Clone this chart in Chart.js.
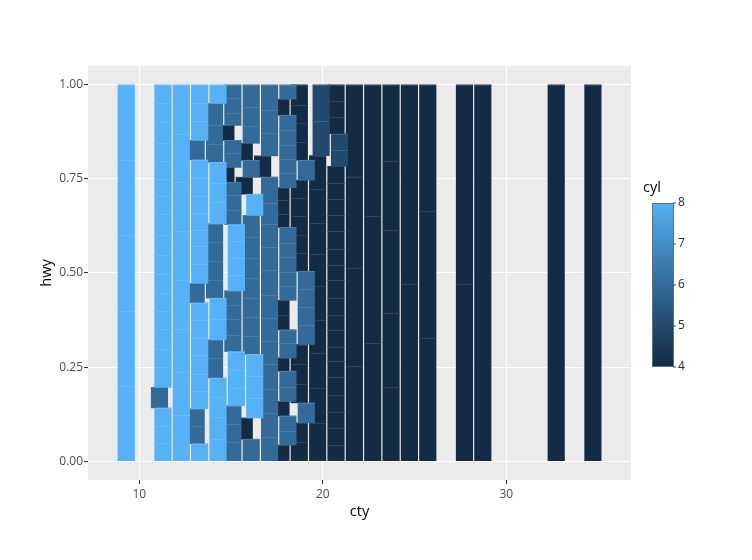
<!DOCTYPE html>
<html>
<head>
<meta charset="utf-8">
<script src="https://cdn.jsdelivr.net/npm/chart.js@4.4.1/dist/chart.umd.min.js"></script>
<style>
  html, body { margin: 0; padding: 0; background: #fff; }
</style>
</head>
<body>
<canvas id="grafico" width="752" height="560"></canvas>
<script>
// Datos (mpg: una fila por coche, en orden)
const cty = [
  18,21,20,21,16,18,18,18,16,20,19,15,17,17,15,15,17,16,
  14,11,14,13,12,16,15,16,15,15,14,11,11,14,19,22,18,18,17,
  18,17,16,16,17,17,11,15,15,16,16,15,14,13,14,14,14,9,11,11,13,13,9,13,11,13,11,12,9,13,13,12,9,11,11,13,11,
  11,11,12,14,15,14,13,13,13,14,14,13,13,13,11,13,18,18,17,16,15,15,15,15,14,
  28,24,25,23,24,26,25,24,21,
  18,18,21,21,18,18,19,19,19,20,20,17,16,17,
  17,15,15,14,9,14,13,11,
  11,12,12,11,
  11,11,12,
  14,13,13,13,
  21,19,23,23,19,19,18,19,19,14,15,14,12,
  18,16,17,18,16,
  18,18,20,19,20,18,21,19,19,19,20,20,19,20,
  15,16,15,15,16,14,21,21,21,21,18,18,19,21,21,21,22,18,18,18,24,24,26,28,26,11,13,15,16,17,15,15,15,16,
  21,19,21,22,17,33,21,19,22,21,21,21,16,17,35,29,21,19,20,20,21,18,19,21,16,18,17
];
const hwy = [
  29,29,31,30,26,26,27,26,25,28,27,25,25,25,25,24,25,23,
  20,15,20,17,17,26,23,26,25,24,19,14,15,17,27,30,26,29,26,
  24,24,22,22,24,24,17,22,21,23,23,19,18,17,17,19,19,12,17,15,17,17,12,17,16,18,15,16,12,17,17,16,12,15,16,17,15,
  17,17,18,17,19,17,19,19,17,17,17,16,16,17,15,17,26,25,26,24,21,22,23,22,20,
  33,32,32,29,32,34,36,36,29,
  26,27,30,31,26,26,28,26,29,28,27,24,24,24,
  22,19,20,17,12,19,18,14,
  15,18,18,15,
  17,16,18,
  17,19,19,17,
  29,27,31,32,27,26,26,25,25,17,17,20,18,
  26,26,27,28,25,
  25,24,27,25,26,23,26,26,26,26,25,27,25,27,
  20,20,19,17,20,17,29,27,31,31,26,26,28,27,29,31,31,26,26,27,30,33,35,37,35,15,18,20,20,22,17,19,18,20,
  29,26,29,29,24,44,29,26,29,29,29,29,23,24,44,41,29,26,28,29,29,29,28,29,26,26,26
];
const cyl = [
  4,4,4,4,6,6,6,4,4,4,4,6,6,6,6,6,6,8,
  8,8,8,8,8,8,8,8,8,8,8,8,8,8,4,4,6,6,6,
  4,6,6,6,6,6,6,6,6,6,6,6,6,6,6,8,8,8,8,8,6,8,8,8,8,8,8,8,8,8,8,8,8,8,8,8,8,
  8,8,8,6,6,6,6,8,8,6,6,8,8,8,8,8,6,6,6,6,8,8,8,8,8,
  4,4,4,4,4,4,4,4,4,
  4,4,4,4,6,6,6,4,4,4,4,6,6,6,
  6,6,6,8,8,8,8,8,
  8,8,8,8,
  8,8,8,
  6,6,8,8,
  4,4,4,4,6,6,6,6,6,6,6,6,8,
  6,6,6,6,8,
  4,4,4,4,4,4,4,4,4,4,4,4,4,4,
  4,4,6,6,6,8,4,4,4,4,6,6,6,4,4,4,4,6,6,6,4,4,4,4,4,8,8,4,4,4,6,6,6,6,
  4,4,4,4,6,4,4,4,4,4,5,5,6,6,4,4,4,4,5,5,4,4,4,4,6,6,6
];

// Ejes y leyenda
const yTicks = [0, 0.25, 0.5, 0.75, 1];
const xTicks = [10, 20, 30];
const cylTicks = [4, 5, 6, 7, 8];
const cylNiveles = [8, 6, 5, 4];          // orden de dibujo (el primero queda arriba)
const desplazamiento = {4: -0.28, 5: -0.09, 6: 0.10, 8: 0.29}; // trazas agrupadas de plotly

// Colores: gradiente Lab de ggplot (#132B43 -> #56B1F7)
const W = [0.95047, 1, 1.08883];
function lin(c) { c /= 255; return c <= 0.04045 ? c / 12.92 : Math.pow((c + 0.055) / 1.055, 2.4); }
function delin(c) { c = c <= 0.0031308 ? 12.92 * c : 1.055 * Math.pow(c, 1 / 2.4) - 0.055; return Math.round(Math.max(0, Math.min(1, c)) * 255); }
function fl(t) { return t > 216 / 24389 ? Math.cbrt(t) : (24389 / 27 * t + 16) / 116; }
function fli(t) { return t * t * t > 216 / 24389 ? t * t * t : (116 * t - 16) / (24389 / 27); }
function aLab(hex) {
  const [r, g, b] = [1, 3, 5].map(i => lin(parseInt(hex.slice(i, i + 2), 16)));
  const X = 0.4124564 * r + 0.3575761 * g + 0.1804375 * b;
  const Y = 0.2126729 * r + 0.7151522 * g + 0.0721750 * b;
  const Z = 0.0193339 * r + 0.1191920 * g + 0.9503041 * b;
  const fx = fl(X / W[0]), fy = fl(Y / W[1]), fz = fl(Z / W[2]);
  return [116 * fy - 16, 500 * (fx - fy), 200 * (fy - fz)];
}
function aRgb(lab, mezcla) {
  const fy = (lab[0] + 16) / 116, fx = fy + lab[1] / 500, fz = fy - lab[2] / 200;
  const X = W[0] * fli(fx), Y = W[1] * fli(fy), Z = W[2] * fli(fz);
  let rgb = [
    3.2404542 * X - 1.5371385 * Y - 0.4985314 * Z,
    -0.9692660 * X + 1.8760108 * Y + 0.0415560 * Z,
    0.0556434 * X - 0.2040259 * Y + 1.0572252 * Z
  ].map(delin);
  if (mezcla) rgb = rgb.map(v => Math.round(v + (255 - v) * mezcla));
  return 'rgb(' + rgb.join(',') + ')';
}
const labBajo = aLab('#132B43'), labAlto = aLab('#56B1F7');
function colorCyl(v, mezcla) {
  const t = (v - 4) / 4;
  return aRgb(labBajo.map((c, i) => c + (labAlto[i] - c) * t), mezcla);
}

// Barras apiladas al 100% (position = "fill")
const totales = {};
cty.forEach((c, i) => { totales[c] = (totales[c] || 0) + hwy[i]; });
const acumulado = {};
const segmentos = cty.map((c, i) => {
  const base = acumulado[c] || 0;
  acumulado[c] = base + hwy[i];
  return { cty: c, cyl: cyl[i], lo: base / totales[c], hi: acumulado[c] / totales[c] };
});

const datasets = cylNiveles.map(n => ({
  label: String(n),
  data: segmentos.filter(s => s.cyl === n).map(s => ({ x: s.cty + desplazamiento[n], y: [s.lo, s.hi] })),
  backgroundColor: colorCyl(n),
  separador: colorCyl(n, 0.12),
  borderWidth: 0,
  barThickness: 16.5,
  grouped: false
}));

const fuente = '"Open Sans", "DejaVu Sans", sans-serif';

// Fondo del panel, separadores, títulos de ejes y barra de color
const decoracion = {
  id: 'decoracion',
  beforeDraw(chart) {
    const { ctx, chartArea: a } = chart;
    ctx.save();
    ctx.fillStyle = '#EBEBEB';
    ctx.fillRect(a.left, a.top, a.right - a.left, a.bottom - a.top);
    ctx.restore();
  },
  afterDatasetDraw(chart, args) {
    // línea fina encima de cada segmento, como en plotly
    const { ctx } = chart;
    const ds = chart.data.datasets[args.index];
    ctx.save();
    ctx.strokeStyle = ds.separador;
    ctx.lineWidth = 1;
    args.meta.data.forEach(bar => {
      const y = Math.round(bar.y) + 0.5;
      ctx.beginPath();
      ctx.moveTo(bar.x - bar.width / 2, y);
      ctx.lineTo(bar.x + bar.width / 2, y);
      ctx.stroke();
    });
    ctx.restore();
  },
  afterDraw(chart) {
    const { ctx, chartArea: a } = chart;
    ctx.save();
    ctx.fillStyle = '#000';
    ctx.font = '14.6px ' + fuente;
    ctx.textAlign = 'center';
    ctx.textBaseline = 'middle';
    ctx.fillText('cty', (a.left + a.right) / 2, 512);
    ctx.translate(47, (a.top + a.bottom) / 2);
    ctx.rotate(-Math.PI / 2);
    ctx.fillText('hwy', 0, 0);
    ctx.restore();

    // leyenda continua
    const bx = 652, by = 203, bw = 22, bh = 164;
    ctx.save();
    const grad = ctx.createLinearGradient(0, by + bh, 0, by);
    for (let k = 0; k <= 16; k++) grad.addColorStop(k / 16, colorCyl(4 + 4 * k / 16));
    ctx.fillStyle = grad;
    ctx.fillRect(bx, by, bw, bh);
    ctx.strokeStyle = '#5a6f80';
    ctx.lineWidth = 1;
    ctx.strokeRect(bx + 0.5, by + 0.5, bw - 1, bh - 1);
    ctx.fillStyle = '#000';
    ctx.font = '14.6px ' + fuente;
    ctx.textAlign = 'left';
    ctx.textBaseline = 'middle';
    ctx.fillText('cyl', 643, 188);
    ctx.font = '12px ' + fuente;
    ctx.fillStyle = '#2a2a2a';
    ctx.strokeStyle = '#444';
    cylTicks.forEach(v => {
      const y = by + bh - (v - 4) / 4 * bh;
      ctx.beginPath();
      ctx.moveTo(bx + bw - 1, y);
      ctx.lineTo(bx + bw + 2, y);
      ctx.stroke();
      ctx.fillText(String(v), bx + bw + 4, y);
    });
    ctx.restore();
  }
};

const grafico = new Chart(document.getElementById('grafico'), {
  type: 'bar',
  data: { datasets: datasets },
  plugins: [decoracion],
  options: {
    responsive: false,
    animation: false,
    layout: { padding: { left: 0, top: 66, right: 121, bottom: 0 } },
    plugins: { legend: { display: false }, tooltip: { enabled: false } },
    scales: {
      x: {
        type: 'linear',
        min: 7.205,
        max: 36.795,
        offset: false,
        afterFit: s => { s.height = 80; },
        afterBuildTicks: s => { s.ticks = xTicks.map(v => ({ value: v })); },
        grid: { color: '#fff', lineWidth: 1.1, tickColor: '#333', tickLength: 4, offset: false },
        border: { display: false },
        ticks: { color: '#4d4d4d', font: { family: fuente, size: 12 }, padding: 3, maxRotation: 0, callback: v => String(v) }
      },
      y: {
        min: -0.05,
        max: 1.05,
        afterFit: s => { s.width = 88; },
        afterBuildTicks: s => { s.ticks = yTicks.map(v => ({ value: v })); },
        grid: { color: '#fff', lineWidth: 1.1, tickColor: '#333', tickLength: 4 },
        border: { display: false },
        ticks: { color: '#4d4d4d', font: { family: fuente, size: 12 }, padding: 1, callback: v => v.toFixed(2) }
      }
    }
  }
});
</script>
</body>
</html>
